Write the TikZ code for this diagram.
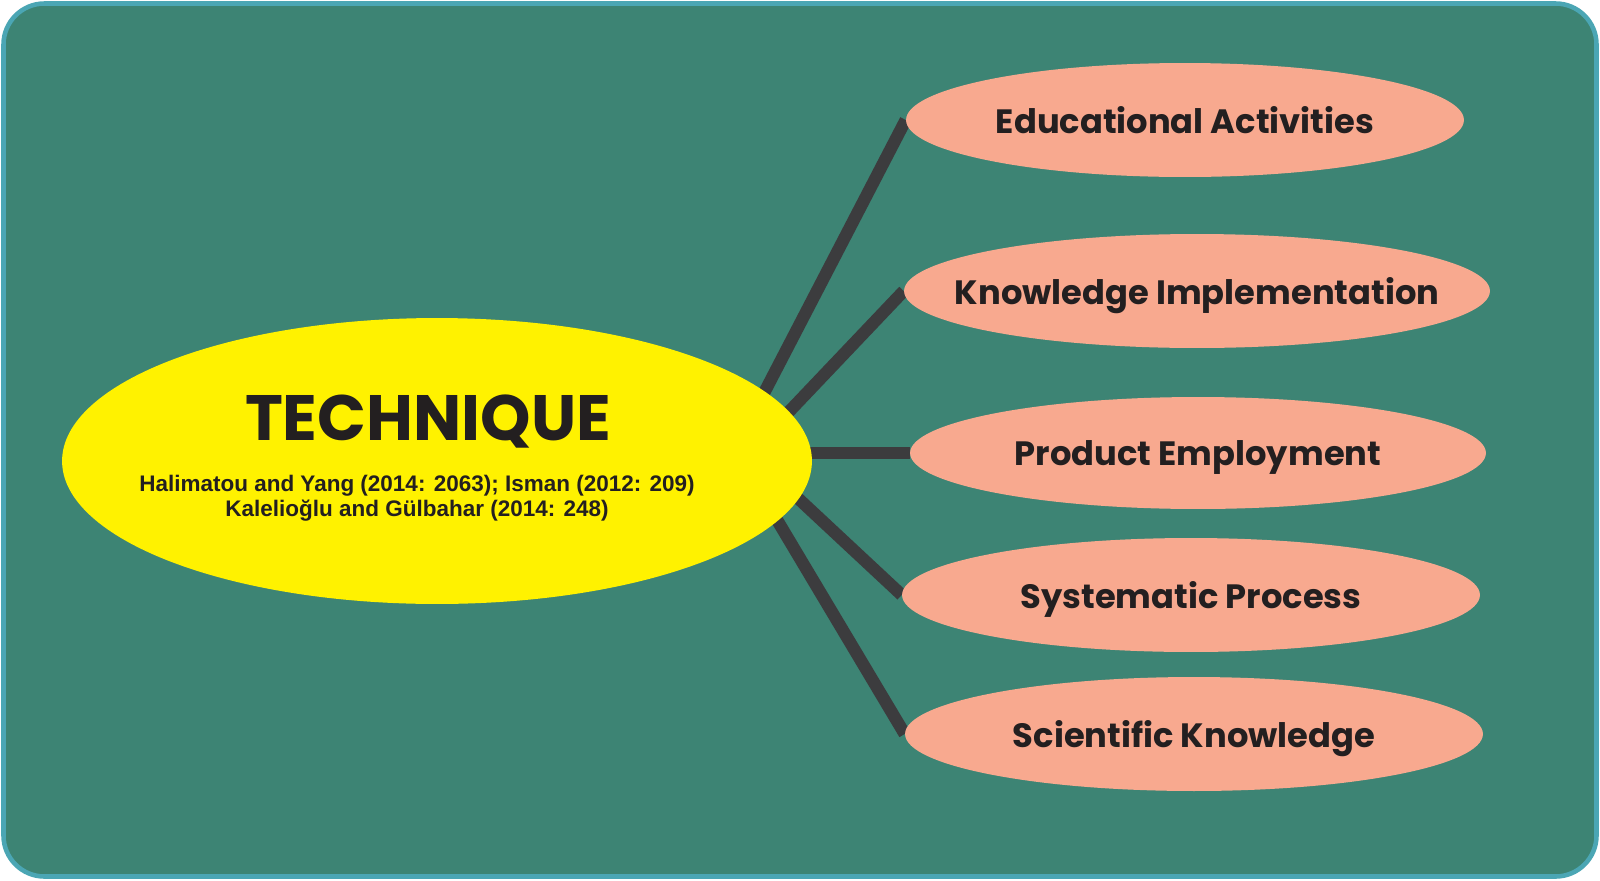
\documentclass[tikz,border=0pt]{standalone}
\usepackage{fontspec}
\setmainfont{Liberation Sans}
\newfontfamily\popfont{Poppins}
\usetikzlibrary{shapes.geometric}
\definecolor{bgteal}{HTML}{3D8474}
\definecolor{bordercyan}{HTML}{4BA6B4}
\definecolor{sunyellow}{HTML}{FFF200}
\definecolor{salmon}{HTML}{F8A98F}
\definecolor{linkgray}{HTML}{3C3C3E}
\definecolor{inkdark}{HTML}{231F20}
\pgfdeclarelayer{bg}
\pgfdeclarelayer{mid}
\pgfsetlayers{bg,mid,main}
\begin{document}
\begin{tikzpicture}[x=0.02cm,y=-0.02cm,
  hub/.style={ellipse, fill=sunyellow, inner sep=0pt, minimum width=15cm, minimum height=5.72cm},
  leaf/.style={ellipse, fill=salmon, inner sep=0pt, minimum height=2.28cm},
  leaftext/.style={anchor=base, inner sep=0pt, text=inkdark, font=\popfont\bfseries\fontsize{19.2}{23}\selectfont},
  titletext/.style={anchor=base, inner sep=0pt, text=inkdark, font=\popfont\bfseries\fontsize{36.5}{42}\selectfont},
  citetext/.style={anchor=base, inner sep=0pt, text=inkdark, font=\bfseries\fontsize{12.8}{15}\selectfont},
  link/.style={draw=linkgray, line width=7pt, shorten <=-12pt}]
\useasboundingbox (0,0) rectangle (1600,880);
\begin{pgfonlayer}{bg}
  \fill[white] (0,0) rectangle (1600,880);
  \draw[fill=bgteal, draw=bordercyan, line width=2.6pt, rounded corners=0.82cm] (3.5,3.5) rectangle (1596.5,876.5);
\end{pgfonlayer}
% hub
\node[hub] (hub) at (437,461) {};
\node[titletext] (title) at (428,440) {TECHNIQUE};
\node[citetext] (cite1) at (417,491) {Halimatou and Yang (2014: 2063); Isman (2012: 209)};
\node[citetext] (cite2) at (417,516) {Kalelioğlu and Gülbahar (2014: 248)};
% leaves
\node[leaf, minimum width=11.16cm] (e1) at (1185,120) {};
\node[leaf, minimum width=11.72cm] (e2) at (1197,291) {};
\node[leaf, minimum width=11.52cm, minimum height=2.24cm] (e3) at (1198,453) {};
\node[leaf, minimum width=11.56cm] (e4) at (1191,595) {};
\node[leaf, minimum width=11.56cm] (e5) at (1194,734) {};
\node[leaftext] (l1) at (1185,133) {Educational Activities};
\node[leaftext] (l2) at (1197,304) {Knowledge Implementation};
\node[leaftext] (l3) at (1198,465) {Product Employment};
\node[leaftext] (l4) at (1191,608) {Systematic Process};
\node[leaftext] (l5) at (1194,747) {Scientific Knowledge};
% connectors
\begin{pgfonlayer}{mid}
  \draw[link] (hub.12) -- (e1.west);
  \draw[link] (hub.8) -- (e2.west);
  \draw[link] (e3.west -| hub.east) -- (e3.west);
  \draw[link] (hub.-6) -- (e4.west);
  \draw[link] (hub.-10) -- (e5.west);
\end{pgfonlayer}
\end{tikzpicture}
\end{document}
